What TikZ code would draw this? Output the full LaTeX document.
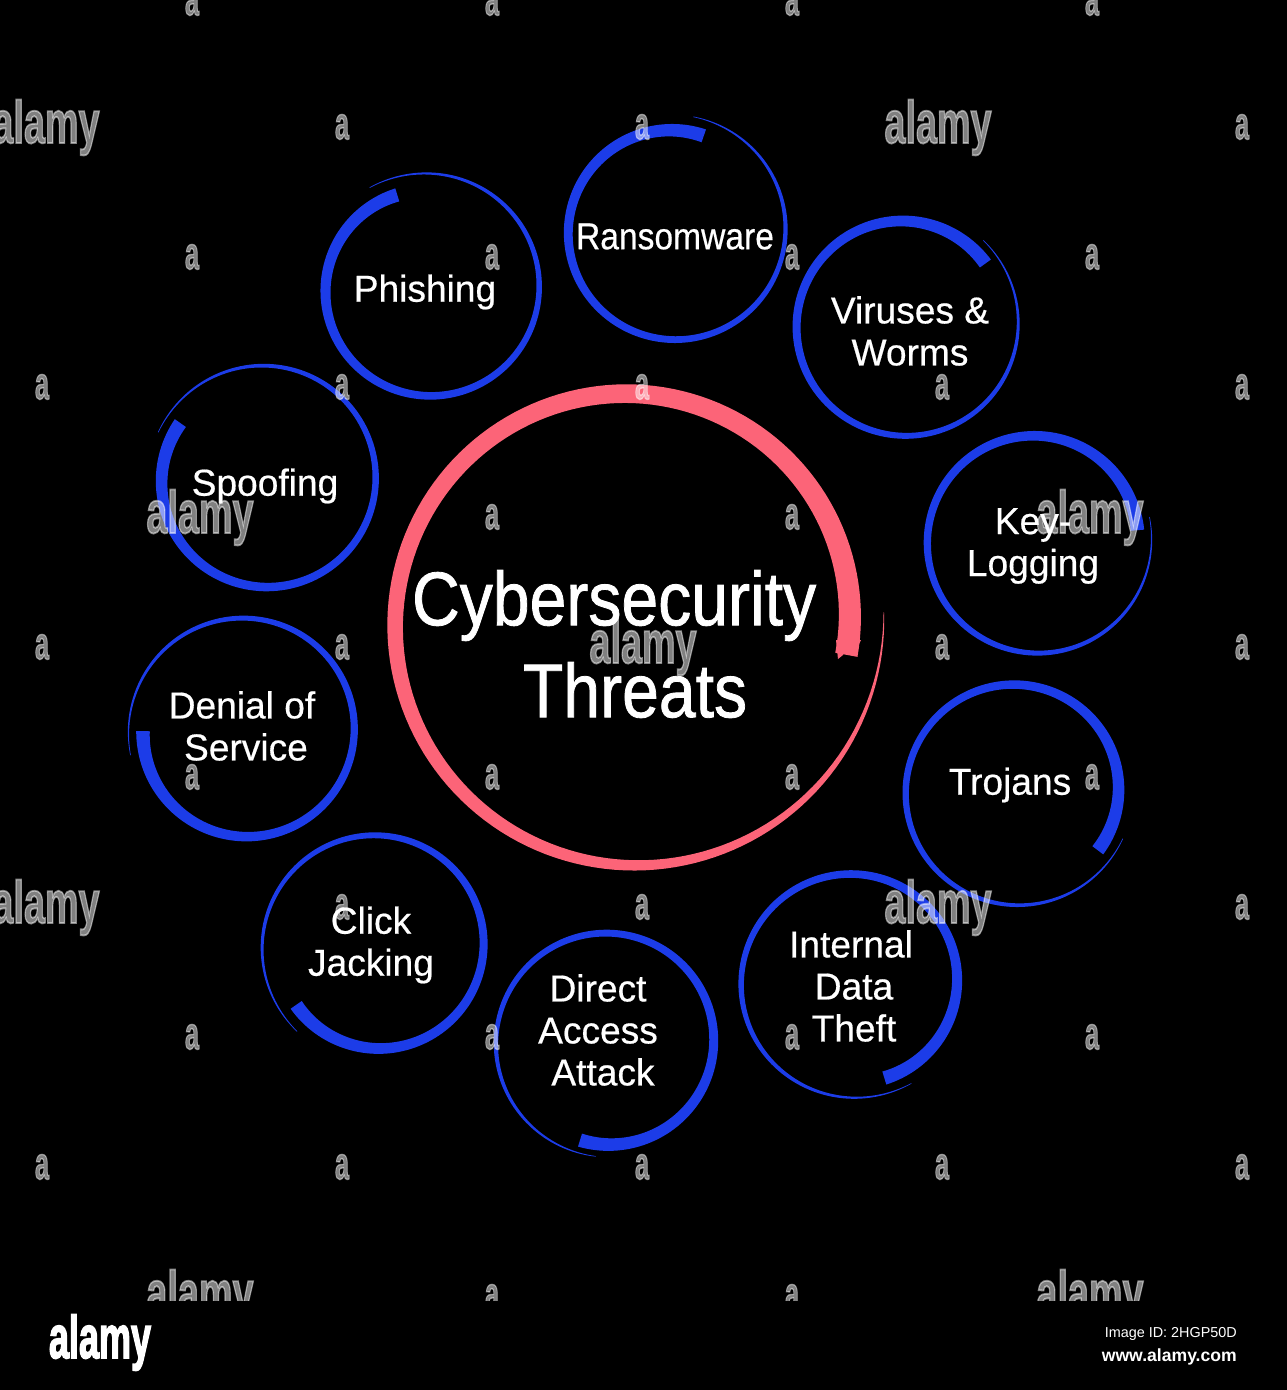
\documentclass[tikz,border=0pt]{standalone}
\usepackage{fontspec}
\setmainfont{Liberation Sans}
\definecolor{ringblue}{RGB}{28,60,232}
\definecolor{ringpink}{RGB}{252,100,120}
% cx cy r0 r1 startangle sweep maxwidth plateauwidth colour
\newcommand\brushring[9]{%
  \fill[#9] plot[domain=0:1,samples=160,variable=\u]
    ({#1+(#3+(#4-#3)*\u+0.5*(#8*(1-\u*\u*\u)+(#7-#8)*(1-\u)^4+0.6))*cos(#5+#6*\u)},
     {#2-(#3+(#4-#3)*\u+0.5*(#8*(1-\u*\u*\u)+(#7-#8)*(1-\u)^4+0.6))*sin(#5+#6*\u)})
    -- plot[domain=1:0,samples=160,variable=\u]
    ({#1+(#3+(#4-#3)*\u-0.5*(#8*(1-\u*\u*\u)+(#7-#8)*(1-\u)^4+0.6))*cos(#5+#6*\u)},
     {#2-(#3+(#4-#3)*\u-0.5*(#8*(1-\u*\u*\u)+(#7-#8)*(1-\u)^4+0.6))*sin(#5+#6*\u)})
    -- cycle;}
\tikzset{
  lbl/.style={text=white,font=\fontsize{37.5}{42}\selectfont\addfontfeature{FakeBold=0.5},align=center,inner sep=0pt,xscale=.99,transform shape},
  ttl/.style={text=white,font=\fontsize{76}{90}\selectfont\addfontfeature{FakeBold=1.1},align=center,inner sep=0pt,xscale=.87,transform shape},
  wma/.style={text=white,text opacity=.5,font=\fontsize{46}{46}\selectfont\bfseries\addfontfeature{FakeBold=3},inner sep=0pt,xscale=.55,transform shape},
  wmb/.style={text=white,text opacity=.5,font=\fontsize{60}{60}\selectfont\bfseries\addfontfeature{FakeBold=3},inner sep=0pt,xscale=.63,transform shape,anchor=base},
}
\begin{document}
\begin{tikzpicture}[x=1pt,y=1pt]
\useasboundingbox (0,-1390) rectangle (1287,0);
\fill[black] (0,-1390) rectangle (1287,0);
\begin{scope}[y=-1pt]
\brushring{631}{621}{218}{253}{-9}{371}{22}{17}{ringpink}
\fill[ringpink] (836,640) -- (838,659) -- (843,655) -- (846,648) -- (852,651) -- (858,646) -- (861,640) -- cycle;
\brushring{673}{231}{100}{116}{72}{368}{13}{7}{ringblue}
\brushring{904}{325}{102}{116}{37}{370}{13}{7}{ringblue}
\brushring{1036}{541}{102}{116}{6}{366}{13}{7}{ringblue}
\brushring{1016}{791}{101}{117}{-36}{372}{13}{7}{ringblue}
\brushring{853}{982}{101}{117}{-72}{372}{13}{7}{ringblue}
\brushring{608}{1042}{102}{115}{-106}{370}{13}{7}{ringblue}
\brushring{377}{946}{100}{117}{-144}{371}{13}{7}{ringblue}
\brushring{245}{731}{102}{117}{-180}{372}{13}{7}{ringblue}
\brushring{265}{480}{102}{117}{146}{370}{13}{7}{ringblue}
\brushring{428}{289}{99}{117}{108}{372}{13}{7}{ringblue}
\node[ttl] (title) at (635,644) {\hspace*{-48pt}Cybersecurity\\[2pt]Threats};
\node[lbl,xscale=.905] (ransom) at (675,236.5) {Ransomware};
\node[lbl] (virus) at (910,331) {Viruses \&\\Worms};
\node[lbl] (key) at (1033,546) {Key-\\Logging};
\node[lbl] (troj) at (1010,785) {Trojans};
\node[lbl] (intern) at (851,986) {Internal\\\hspace*{6pt}Data\\\hspace*{6pt}Theft};
\node[lbl] (direct) at (598,1030) {Direct\\Access\\\hspace*{10pt}Attack};
\node[lbl] (click) at (371,945) {Click\\Jacking};
\node[lbl] (denial) at (242,726) {Denial of\\\hspace*{8pt}Service};
\node[lbl] (spoof) at (265,486) {Spoofing};
\node[lbl] (phish) at (425,292) {Phishing};
\begin{scope}
\clip (0,0) rectangle (1287,1300);
\foreach \px/\py [count=\i] in {192/3,492/3,792/3,1092/3,
  342/127,642/127,1242/127,
  192/257,492/257,792/257,1092/257,
  42/387,342/387,642/387,942/387,1242/387,
  492/517,792/517,
  42/647,342/647,942/647,1242/647,
  192/777,492/777,792/777,1092/777,
  342/907,642/907,1242/907,
  192/1037,492/1037,792/1037,1092/1037,
  42/1167,342/1167,642/1167,942/1167,1242/1167,
  492/1297,792/1297}
  \node[wma] (wa\i) at (\px,\py) {a};
\foreach \px/\py [count=\i] in {46/143,938/143,200/533,1090/533,643/663,46/923,938/923,200/1313,1090/1313}
  \node[wmb] (wb\i) at (\px,\py) {alamy};
\end{scope}
\node[text=white,font=\fontsize{60}{60}\selectfont\bfseries\addfontfeature{FakeBold=3},inner sep=0pt,xscale=.6,transform shape,anchor=base] (logo) at (100,1358) {alamy};
\node[text=white,font=\fontsize{14.4}{16}\selectfont,inner sep=0pt,anchor=base east] (imgid) at (1237,1337) {Image ID: 2HGP50D};
\node[text=white,font=\fontsize{17.6}{18}\selectfont\bfseries,inner sep=0pt,anchor=base east] (url) at (1237,1361) {www.alamy.com};
\end{scope}
\end{tikzpicture}
\end{document}
